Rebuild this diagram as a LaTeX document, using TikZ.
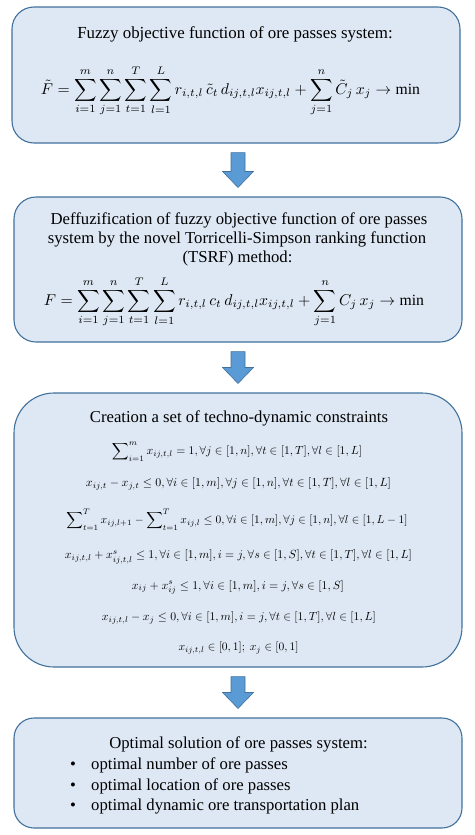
\documentclass[tikz,border=0pt]{standalone}
\usepackage{fontspec}
\setmainfont{Liberation Serif}
\usepackage{amsmath}
\usepackage{graphicx}
\usetikzlibrary{calc}
\definecolor{boxfill}{HTML}{DEE8F4}
\definecolor{boxline}{HTML}{41719C}
\definecolor{arrfill}{HTML}{5B9BD5}
\newcommand\blockarr[2]{%
  \draw[blockarrow] let \p1=(#1.south), \p2=(#2.north) in
    (\x2-7pt,\y1-9pt) -- (\x2+7pt,\y1-9pt) -- (\x2+7pt,\y2+25pt) -- (\x2+15.5pt,\y2+25pt)
    -- (\x2,\y2+9pt) -- (\x2-15.5pt,\y2+25pt) -- (\x2-7pt,\y2+25pt) -- cycle;}
\begin{document}
\begin{tikzpicture}[x=1pt,y=-1pt,
  box/.style={draw=boxline, fill=boxfill, line width=1.1pt, inner sep=0pt},
  txt/.style={font=\fontsize{16.7}{19}\selectfont, inner sep=0pt, anchor=base},
  txta/.style={txt, font=\fontsize{16.9}{19}\selectfont},
  eq/.style={inner sep=0pt, anchor=center},
  blockarrow/.style={fill=arrfill, draw=boxline, line width=0.6pt}]
\useasboundingbox (0,0) rectangle (474,835);
% boxes
\node[box, rounded corners=22pt, minimum width=448pt, minimum height=136pt] (b1) at (236,75) {};
\node[box, rounded corners=22pt, minimum width=448pt, minimum height=145pt] (b2) at (238,269.5) {};
\node[box, rounded corners=40pt, minimum width=448pt, minimum height=274pt] (b3) at (238,530) {};
\node[box, rounded corners=20pt, minimum width=448pt, minimum height=110pt] (b4) at (238,773) {};
% arrows
\blockarr{b1}{b2}
\blockarr{b2}{b3}
\blockarr{b3}{b4}
% box 1
\node[txta] (t1) at (235,38.5) {Fuzzy objective function of ore passes system:};
\node[eq] (f1) at (230.5,91) {\resizebox{379pt}{!}{$\displaystyle \tilde F = \sum_{i=1}^{m}\sum_{j=1}^{n}\sum_{t=1}^{T}\sum_{l=1}^{L} r_{i,t,l}\,\tilde c_t\, d_{ij,t,l}x_{ij,t,l} + \sum_{j=1}^{n}\tilde C_j\, x_j \to \min$}};
% box 2
\node[txt] (t2a) at (239,224) {Deffuzification of fuzzy objective function of ore passes};
\node[txt] (t2b) at (237,243.3) {system by the novel Torricelli-Simpson ranking function};
\node[txt] (t2c) at (237.5,262) {(TSRF) method:};
\node[eq] (f2) at (234,302) {\resizebox{380pt}{!}{$\displaystyle F = \sum_{i=1}^{m}\sum_{j=1}^{n}\sum_{t=1}^{T}\sum_{l=1}^{L} r_{i,t,l}\, c_t\, d_{ij,t,l}x_{ij,t,l} + \sum_{j=1}^{n} C_j\, x_j \to \min$}};
% box 3
\node[txt] (t3) at (239,422) {Creation a set of techno-dynamic constraints};
\node[eq] (c1) at (237,452) {\resizebox{250pt}{!}{$\displaystyle \sum\nolimits_{i=1}^{m} x_{ij,t,l} = 1, \forall j\in[1,n], \forall t\in[1,T], \forall l\in[1,L]$}};
\node[eq] (c2) at (238.5,484) {\resizebox{305pt}{!}{$x_{ij,t} - x_{j,t} \le 0, \forall i\in[1,m], \forall j\in[1,n], \forall t\in[1,T], \forall l\in[1,L]$}};
\node[eq] (c3) at (237,520) {\resizebox{341pt}{!}{$\displaystyle \sum\nolimits_{t=1}^{T} x_{ij,l+1} - \sum\nolimits_{t=1}^{T} x_{ij,l} \le 0, \forall i\in[1,m], \forall j\in[1,n], \forall l\in[1,L-1]$}};
\node[eq] (c4) at (238.5,557) {\resizebox{347pt}{!}{$x_{ij,t,l} + x_{ij,t,l}^{s} \le 1, \forall i\in[1,m], i=j, \forall s\in[1,S], \forall t\in[1,T], \forall l\in[1,L]$}};
\node[eq] (c5) at (238,587) {\resizebox{212pt}{!}{$x_{ij} + x_{ij}^{s} \le 1, \forall i\in[1,m], i=j, \forall s\in[1,S]$}};
\node[eq] (c6) at (239,618) {\resizebox{274pt}{!}{$x_{ij,t,l} - x_{j} \le 0, \forall i\in[1,m], i=j, \forall t\in[1,T], \forall l\in[1,L]$}};
\node[eq] (c7) at (238.5,648) {\resizebox{120pt}{!}{$x_{ij,t,l}\in[0,1];\ x_{j}\in[0,1]$}};
% box 4
\node[txt] (t4) at (238.5,748.5) {Optimal solution of ore passes system:};
\node[txt] (p1) at (73,769) {\textbullet};
\node[txt, anchor=base west] (i1) at (91,769) {optimal number of ore passes};
\node[txt] (p2) at (73,790) {\textbullet};
\node[txt, anchor=base west] (i2) at (91,790) {optimal location of ore passes};
\node[txt] (p3) at (73,810.5) {\textbullet};
\node[txt, anchor=base west] (i3) at (91,810.5) {optimal dynamic ore transportation plan};
\end{tikzpicture}
\end{document}
